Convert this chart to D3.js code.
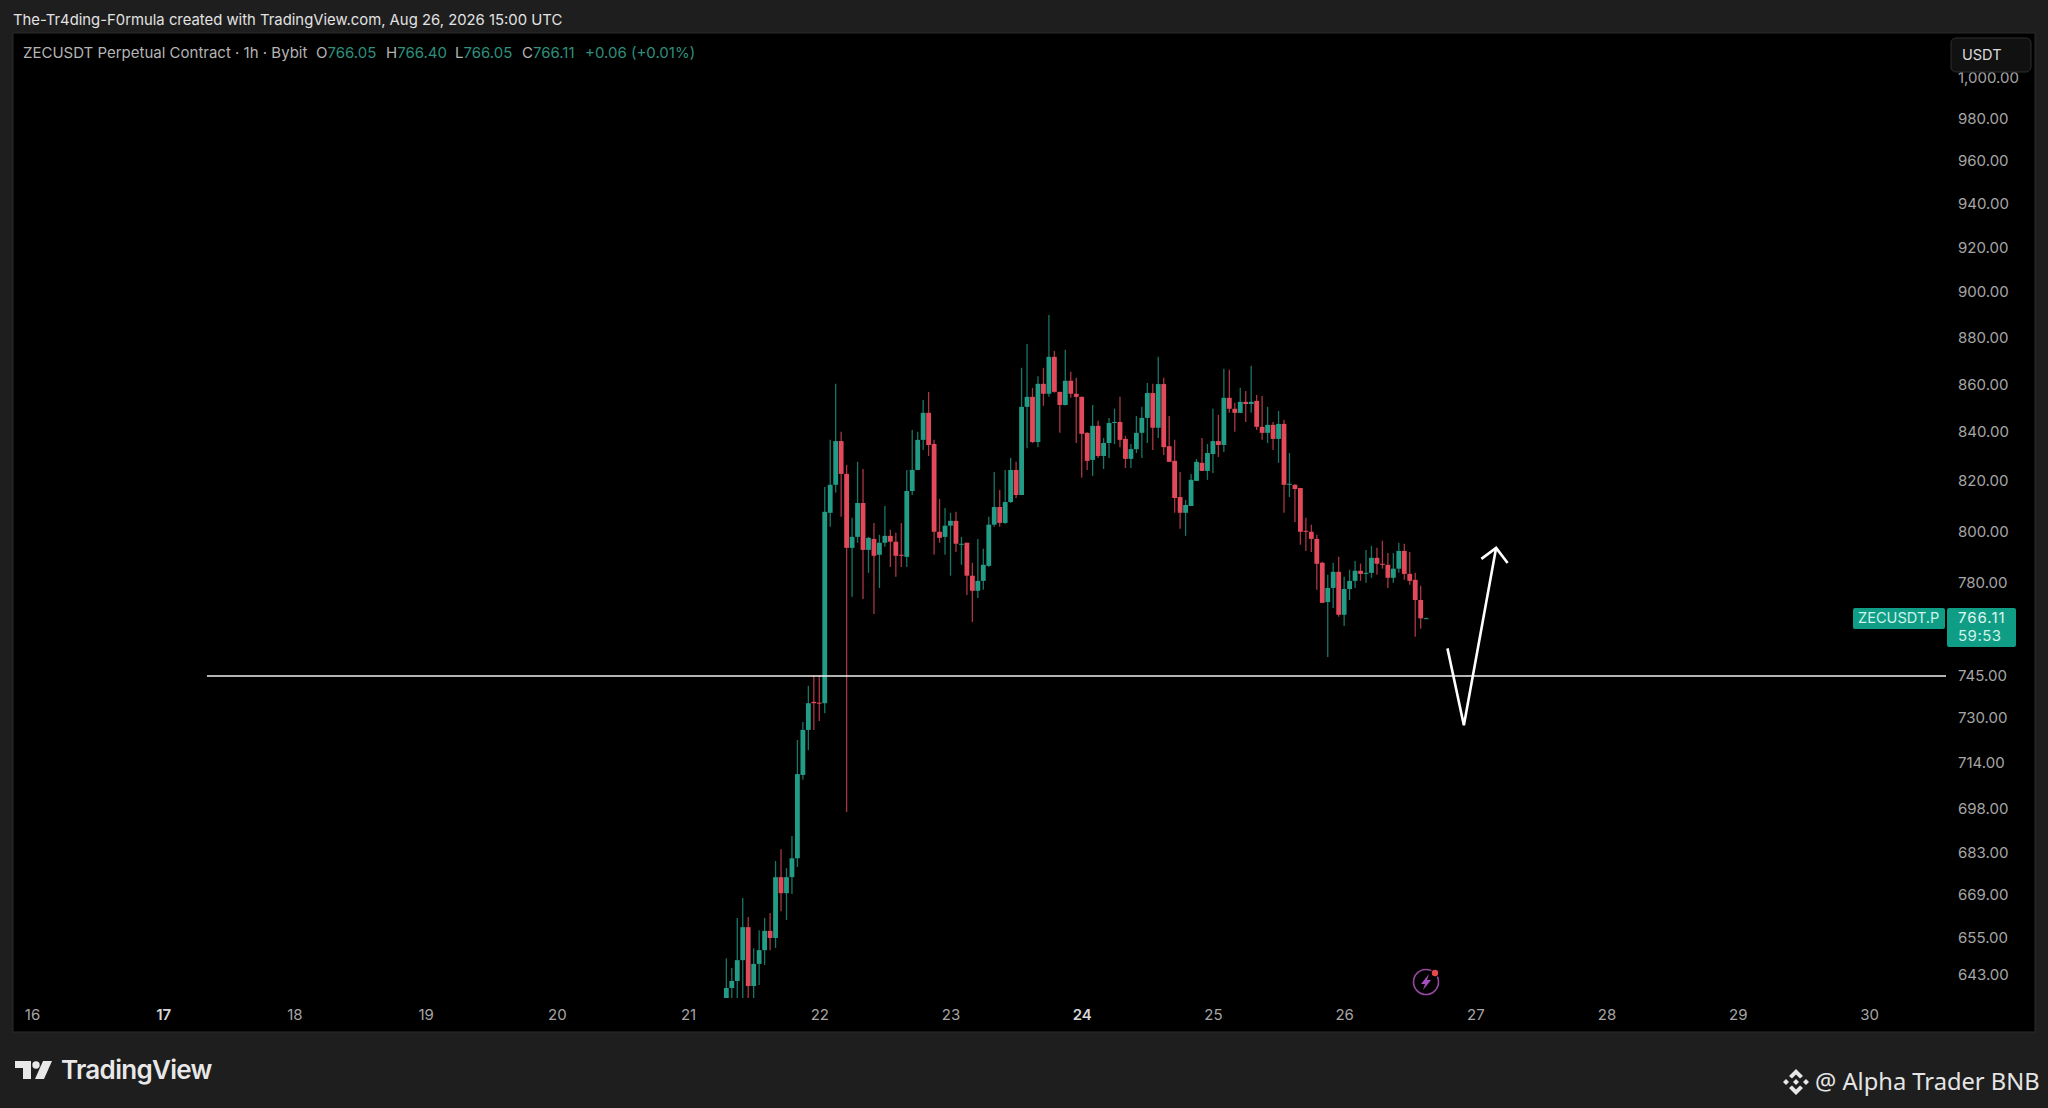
<!DOCTYPE html>
<html lang="en">
<head>
    <meta charset="UTF-8">
    <title>ZECUSDT Perpetual Contract</title>
    <script src="https://d3js.org/d3.v7.min.js"></script>
    <style>
        html, body { margin: 0; padding: 0; background: #1e1e1e; overflow: hidden; }
        svg { display: block; font-family: Inter, "Liberation Sans", sans-serif; }
        .axis text { fill: #a6a6a6; font-size: 15px; font-family: Inter, sans-serif; }
        .axis .domain, .axis line { display: none; }
        .legend { font-size: 15px; fill: #b4b4b4; }
        .legend.val { fill: #2f8f7c; }
    </style>
</head>
<body>
    <svg width="2048" height="1108"></svg>
    <script>
        // 1h candles, first one opens 21 Aug 2026 07:00 UTC
        const firstCandle = Date.UTC(2026, 7, 21, 7);
        const opens = [633.5,638.6,640.8,647.4,658,639.2,646.2,650.6,656.8,654.5,674.4,669.1,674.4,680.7,709.2,725.1,735.2,734.9,734.7,806.9,818.1,835.9,822.5,793.1,797.4,810.8,792.3,796.6,790.4,795.1,797.8,795.5,790.4,789.6,815.6,824.1,836.4,847.6,834.7,799.4,797.4,801.8,803.7,794.3,795.1,782.3,776.5,780.3,786.1,802.2,809.2,802.9,811.2,824.1,814,850.1,854.3,835.5,859.8,855.6,871.3,856.4,850.9,861.1,855.6,854.3,839.3,828.2,842.2,829.8,835.1,843.4,843.8,836.8,828.6,832.6,839.3,845.5,855.9,841.4,859.7,833.8,827.8,813.2,806.9,809.6,819.7,827,823.7,830.6,835.9,834.3,853.9,849.3,847.6,852.2,851.3,852.6,841.8,839.3,842.6,836.8,843,818.1,818.1,816.8,799.8,799.4,796.6,787.3,772.2,777.6,783.8,767.4,777.2,780.3,784.2,783,783.4,789.2,786.9,786.5,781.5,785,791.9,783,780.7,773,766.05];
        const highs = [648,644.9,661,667.5,661.3,651.2,657,661,662.6,679.8,683.7,677.4,688.2,721.5,727.9,741,745,745,817.2,836.4,859.8,839.7,826.1,804.9,827.4,824.5,797.4,802.9,798.2,809.6,800.2,799,802.9,824.1,840.5,839.7,853,856.4,836.4,812.4,808.8,806.9,807.3,797.4,795.1,787.3,796.6,792.7,805.3,823.3,816,824.1,829,827.4,866.6,876.8,858.1,863,866.6,889.4,873.8,856.4,874.3,864.9,862.4,854.5,839.5,850.9,844.3,837.2,845.5,849.3,854.3,838.1,834.7,846.3,850.1,860.2,859.8,871.3,862.4,846.3,836.4,823.3,812,822.5,828.6,837.2,834.7,849.3,846.8,866.2,865.8,851.8,858.1,856.8,867.5,855.1,854.7,850.1,843.8,848.4,844.7,831,818.3,816.9,804.9,802.2,798.2,787.7,782.7,787.3,789.6,781.9,784.6,788,787,792.3,793.9,793.1,795.9,791.1,791.1,795.1,794.7,791.5,783.4,778.4,766.4];
        const lows = [633,633.5,633.5,634.2,633.5,633.5,639.5,645.9,650.6,651.3,663.2,660.3,668.8,677.8,707.5,717.9,725.1,728.3,731.1,801.4,815,805.3,696.4,774.2,795.1,773.4,783.4,767.7,777.6,793.5,785.7,781.9,785.7,785.7,814,824.1,832.2,829.8,790.4,795.1,790.4,782.3,791.5,786.5,774.9,764.7,773.8,776.9,785.7,801.4,801.4,802.5,810.8,812.8,814,833,835.1,833.4,850.5,854.3,856,839.3,850.7,853.9,835.1,820.9,824.1,821.7,829,824.5,829,834.7,833.4,824.9,824.9,831,829,835.1,832.2,837.2,830.2,827.4,806.9,800.6,797.8,809.6,819.7,823.7,820.1,822.9,829.4,831.4,847.6,839.7,847.4,843.8,847.6,840.5,836.4,835.1,832.2,827,806.9,813.2,803.3,794.3,791.9,791.5,776.9,771.9,751.6,770,766.6,763.2,773,777.6,780.3,779.6,781.5,782.7,785,777.6,779.6,783.4,780.7,778.8,759.1,762.1,766.05];
        const closes = [638.6,640.8,647.4,658,639.2,646.2,650.6,656.8,654.5,674.4,669.1,674.4,680.7,709.5,725.1,734.7,734.7,734.7,807.3,818.1,835.9,822.5,793.1,797.4,810.8,792.3,797,790,795.1,797.8,795.5,790,790,815.6,824.1,836.4,847.6,834.3,799.4,797,801.8,803.7,794.7,794.7,782.3,776.5,780.3,786.5,802.2,809.2,802.9,811.2,824.1,814,850.1,854.3,835.5,859.8,855.6,871.3,856.4,850.9,861.1,855.6,854.3,838.9,827.8,842.2,829.8,835.1,843.4,843.8,836.4,828.6,832.6,839.3,845.5,855.9,841.4,859.7,833.4,827.4,812.8,806.9,810,820.1,827.4,823.7,831,835.9,834.3,853.9,849.3,847.6,852.2,851.3,852.2,841.8,839.3,842.6,836.8,843,818.1,818.5,816.4,799.4,799.4,796.6,786.9,771.9,777.6,783.8,767.4,777.2,780.3,784.2,783,783.4,789.2,786.9,786.5,781.5,785,791.9,783,780.3,773,766.05,766.11];

        // axis ticks as TradingView printed them
        const priceTicks = [1000,980,960,940,920,900,880,860,840,820,800,780,745,730,714,698,683,669,655,643];
        const dayTicks = d3.range(16, 31).map(d => new Date(Date.UTC(2026, 7, d)));
        const boldDays = [17, 24];

        // drawings on the chart: horizontal level and the hand drawn arrow
        const levelPrice = 744.6;
        const levelStart = Date.UTC(2026, 7, 17, 8);
        const arrowPath = [[Date.UTC(2026,7,26,18,54),754.8],[Date.UTC(2026,7,26,21,54),726.8],[Date.UTC(2026,7,27,3,48),793.1]];
        const arrowHead = [[Date.UTC(2026,7,27,1,6),788.8],[Date.UTC(2026,7,27,3,48),793.1],[Date.UTC(2026,7,27,5,54),787.2]];

        const green = '#229c87', red = '#e2495a';
        const svg = d3.select('svg');

        const x = d3.scaleUtc()
            .domain([new Date(Date.UTC(2026, 7, 16)), new Date(Date.UTC(2026, 7, 30))])
            .range([32, 1869]);
        const y = d3.scaleLog().domain([643, 1000]).range([974, 77]);

        // frame
        svg.append('rect').attr('x', 13).attr('y', 33).attr('width', 2022).attr('height', 999)
            .attr('fill', '#000').attr('stroke', '#2b2b2b');
        svg.append('clipPath').attr('id', 'plot').append('rect')
            .attr('x', 14).attr('y', 34).attr('width', 1932).attr('height', 964);

        const candles = opens.map((o, i) => ({
            t: new Date(firstCandle + i * 3600e3), o, h: highs[i], l: lows[i], c: closes[i]
        }));

        const plot = svg.append('g').attr('clip-path', 'url(#plot)');
        plot.selectAll('line.wick').data(candles).join('line')
            .attr('class', 'wick')
            .attr('x1', d => x(d.t)).attr('x2', d => x(d.t))
            .attr('y1', d => y(d.h)).attr('y2', d => y(d.l))
            .attr('stroke', d => d.c >= d.o ? green : red)
            .attr('stroke-width', 1.3).attr('stroke-opacity', 0.75);
        plot.selectAll('rect.body').data(candles).join('rect')
            .attr('class', 'body')
            .attr('x', d => x(d.t) - 2.4).attr('width', 4.8)
            .attr('y', d => y(Math.max(d.o, d.c)))
            .attr('height', d => Math.max(1, Math.abs(y(d.o) - y(d.c))))
            .attr('fill', d => d.c >= d.o ? green : red);

        // level + arrow
        svg.append('line')
            .attr('x1', x(new Date(levelStart))).attr('x2', 1946)
            .attr('y1', y(levelPrice)).attr('y2', y(levelPrice))
            .attr('stroke', '#f0f0f0').attr('stroke-width', 1.6);
        const arrowLine = d3.line().x(d => x(new Date(d[0]))).y(d => y(d[1]));
        [arrowPath, arrowHead].forEach(p => {
            svg.append('path').attr('d', arrowLine(p)).attr('fill', 'none')
                .attr('stroke', '#fff').attr('stroke-width', 2.6);
        });

        // axes
        svg.append('g').attr('class', 'axis').attr('transform', 'translate(1950,1)')
            .call(d3.axisRight(y).tickValues(priceTicks).tickSize(0).tickPadding(8).tickFormat(d3.format(',.2f')));
        const xAxis = svg.append('g').attr('class', 'axis').attr('transform', 'translate(0,1009)')
            .call(d3.axisBottom(x).tickValues(dayTicks).tickSize(0).tickPadding(0).tickFormat(d3.utcFormat('%-d')));
        xAxis.selectAll('text')
            .filter(d => boldDays.includes(d.getUTCDate()))
            .attr('font-weight', 600).style('fill', '#d6d6d6');

        // header
        svg.append('text').attr('x', 13).attr('y', 25).attr('fill', '#e2e2e2')
            .attr('font-size', 14.85)
            .text('The-Tr4ding-F0rmula created with TradingView.com, Aug 26, 2026 15:00 UTC');

        const last = candles[candles.length - 1];
        const fmt = d3.format('.2f');
        const legend = svg.append('g');
        legend.append('text').attr('class', 'legend').attr('x', 23).attr('y', 58)
            .text('ZECUSDT Perpetual Contract · 1h · Bybit');
        [['O', last.o, 316], ['H', last.h, 386], ['L', last.l, 455], ['C', last.c, 522]].forEach(d => {
            const t = legend.append('text').attr('class', 'legend').attr('x', d[2]).attr('y', 58);
            t.append('tspan').text(d[0]);
            t.append('tspan').attr('class', 'legend val').style('fill', '#2f8f7c').text(fmt(d[1]));
        });
        legend.append('text').attr('class', 'legend val').attr('x', 585).attr('y', 58)
            .text(`+${fmt(last.c - last.o)} (+${fmt((last.c - last.o) / last.o * 100)}%)`);

        // currency button sits over the top tick
        svg.append('rect').attr('x', 1951).attr('y', 38).attr('width', 80).attr('height', 34).attr('rx', 5)
            .attr('fill', '#111').attr('stroke', '#2e2e2e');
        svg.append('text').attr('x', 1962).attr('y', 60).attr('fill', '#dcdcdc').attr('font-size', 14.5).text('USDT');

        // last price tags
        const tagG = svg.append('g');
        tagG.append('rect').attr('x', 1853).attr('y', 608).attr('width', 92).attr('height', 21).attr('rx', 2).attr('fill', '#0f9d85');
        tagG.append('rect').attr('x', 1947).attr('y', 608).attr('width', 69).attr('height', 39).attr('rx', 2).attr('fill', '#0f9d85');
        tagG.append('text').attr('x', 1858).attr('y', 623).attr('fill', '#cdf3ea').attr('font-size', 14.6).text('ZECUSDT.P');
        tagG.append('text').attr('x', 1958).attr('y', 623).attr('fill', '#e0f7f2').attr('font-size', 15).attr('letter-spacing', 1).text(fmt(last.c));
        tagG.append('text').attr('x', 1958).attr('y', 641).attr('fill', '#cdf3ea').attr('font-size', 15).attr('letter-spacing', 0.5).text('59:53');

        // flash icon near the time axis
        const flash = svg.append('g').attr('transform', 'translate(1426,982)');
        flash.append('circle').attr('r', 12.5).attr('fill', 'none').attr('stroke', '#97479f').attr('stroke-width', 1.6);
        flash.append('path').attr('d', 'M3,-8 L-5,2 L-1,2 L-3,8 L5,-2 L1,-2 Z').attr('fill', '#a650bd');
        flash.append('circle').attr('cx', 9).attr('cy', -9).attr('r', 4.4).attr('fill', '#000');
        flash.append('circle').attr('cx', 9).attr('cy', -9).attr('r', 3.2).attr('fill', '#e5484d');

        // TradingView mark
        const logo = svg.append('g').attr('fill', '#e8e8e8');
        logo.append('path').attr('d', 'M15,1061 H31 V1079 H23 V1068 H15 Z');
        logo.append('circle').attr('cx', 36).attr('cy', 1065).attr('r', 3.7);
        logo.append('path').attr('d', 'M43,1061 H52 L44,1079 H35 Z');
        svg.append('text').attr('x', 61).attr('y', 1079).attr('fill', '#e8e8e8')
            .attr('font-size', 26).attr('font-weight', 600).attr('letter-spacing', -0.7).text('TradingView');

        // watermark
        const badge = svg.append('g').attr('transform', 'translate(1796,1082)').attr('fill', '#e8e8e8');
        badge.append('path').attr('d', 'M0,-13 L7,-6 L4,-3.5 L0,-7.5 L-4,-3.5 L-7,-6 Z');
        badge.append('path').attr('d', 'M0,13 L7,6 L4,3.5 L0,7.5 L-4,3.5 L-7,6 Z');
        badge.append('path').attr('d', 'M0,-3 L3,0 L0,3 L-3,0 Z');
        badge.append('path').attr('d', 'M-10,-3 L-7,0 L-10,3 L-13,0 Z');
        badge.append('path').attr('d', 'M10,-3 L13,0 L10,3 L7,0 Z');
        svg.append('text').attr('x', 1815).attr('y', 1090).attr('fill', '#e4e4e4')
            .attr('font-family', '"Noto Sans", sans-serif').attr('font-size', 23.7).text('@ Alpha Trader BNB');
    </script>
</body>
</html>
